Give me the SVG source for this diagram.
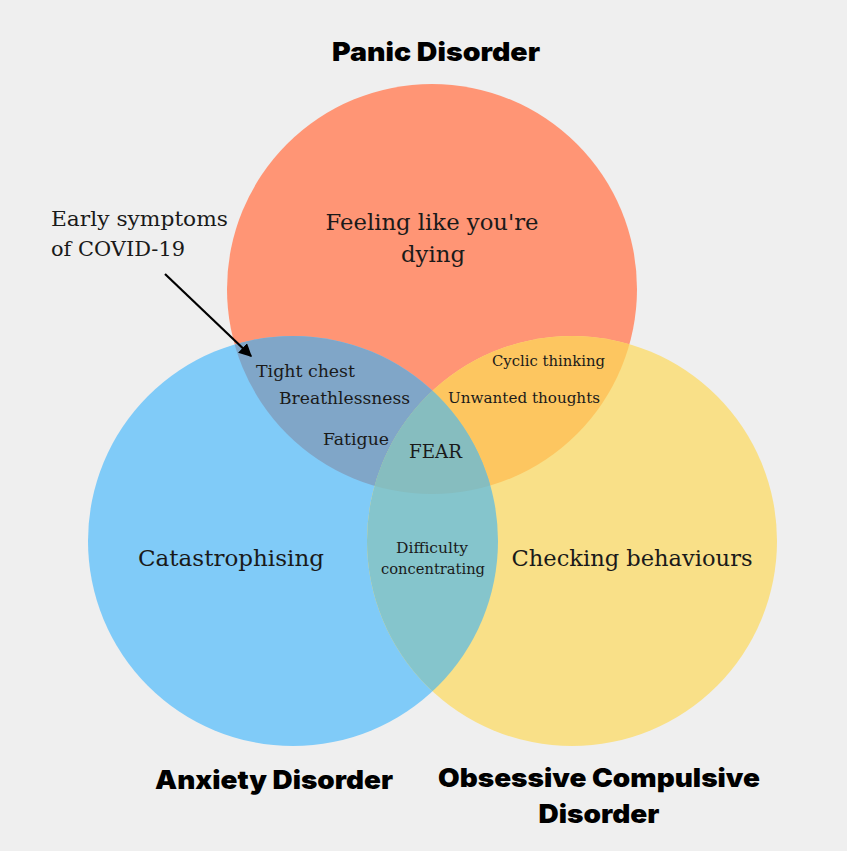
<svg xmlns="http://www.w3.org/2000/svg" width="847" height="851" viewBox="0 0 847 851">
<style>
.title{font-family:Inter,"DejaVu Sans",sans-serif;font-weight:900;font-size:26px;fill:#000;text-anchor:middle}
.lbl{font-family:"DejaVu Serif","Liberation Serif",serif;fill:#1a1a1a}
.c{text-anchor:middle}
</style>
<defs>
<clipPath id="cpRed"><circle cx="432" cy="289" r="205"/></clipPath>
<clipPath id="cpBlue"><circle cx="293" cy="541" r="205"/></clipPath>
<clipPath id="cpYellow"><circle cx="572" cy="541" r="205"/></clipPath>
<marker id="arr" viewBox="0 0 10 10" refX="9" refY="5" markerWidth="13" markerHeight="13" orient="auto" markerUnits="userSpaceOnUse">
<path d="M0,0 L10,5 L0,10 z" fill="#000"/>
</marker>
</defs>
<rect width="847" height="851" fill="#EFEFEF"/>
<g id="panic">
<circle cx="432" cy="289" r="205" fill="#FF9575"/>
<text class="title" x="436" y="61" textLength="208" lengthAdjust="spacingAndGlyphs">Panic Disorder</text>
<text class="lbl c" x="432" y="230" font-size="22" textLength="213" lengthAdjust="spacingAndGlyphs">Feeling like you're</text>
<text class="lbl c" x="433" y="262" font-size="22" textLength="64" lengthAdjust="spacingAndGlyphs">dying</text>
</g>
<g id="anxiety">
<circle cx="293" cy="541" r="205" fill="#80CBF8"/>
<text class="title" x="274" y="789" textLength="238" lengthAdjust="spacingAndGlyphs">Anxiety Disorder</text>
<text class="lbl c" x="231" y="566" font-size="22" textLength="186" lengthAdjust="spacingAndGlyphs">Catastrophising</text>
</g>
<g id="ocd">
<circle cx="572" cy="541" r="205" fill="#F9E088"/>
<text class="title" x="599" y="787" textLength="322" lengthAdjust="spacingAndGlyphs">Obsessive Compulsive</text>
<text class="title" x="599" y="823" textLength="121" lengthAdjust="spacingAndGlyphs">Disorder</text>
<text class="lbl c" x="632" y="566" font-size="22" textLength="241" lengthAdjust="spacingAndGlyphs">Checking behaviours</text>
</g>
<g id="panic-anxiety">
<circle cx="293" cy="541" r="205" fill="#80A6C8" clip-path="url(#cpRed)"/>
<text class="lbl" x="256" y="377" font-size="17" textLength="99" lengthAdjust="spacingAndGlyphs">Tight chest</text>
<text class="lbl" x="279" y="404" font-size="17" textLength="131" lengthAdjust="spacingAndGlyphs">Breathlessness</text>
<text class="lbl" x="323" y="445" font-size="17" textLength="66" lengthAdjust="spacingAndGlyphs">Fatigue</text>
</g>
<g id="panic-ocd">
<circle cx="572" cy="541" r="205" fill="#FDC660" clip-path="url(#cpRed)"/>
<text class="lbl" x="492" y="366" font-size="15" textLength="113" lengthAdjust="spacingAndGlyphs">Cyclic thinking</text>
<text class="lbl" x="448" y="403" font-size="15" textLength="152" lengthAdjust="spacingAndGlyphs">Unwanted thoughts</text>
</g>
<g id="anxiety-ocd">
<circle cx="572" cy="541" r="205" fill="#85C5CC" clip-path="url(#cpBlue)"/>
<text class="lbl c" x="432" y="553" font-size="15" textLength="72" lengthAdjust="spacingAndGlyphs">Difficulty</text>
<text class="lbl c" x="433" y="574" font-size="15" textLength="104" lengthAdjust="spacingAndGlyphs">concentrating</text>
</g>
<g id="fear">
<g clip-path="url(#cpRed)"><circle cx="572" cy="541" r="205" fill="#86BDBF" clip-path="url(#cpBlue)"/></g>
<text class="lbl" x="409" y="458" font-size="19" textLength="53" lengthAdjust="spacingAndGlyphs">FEAR</text>
</g>
<g id="covid-note">
<text class="lbl" x="51" y="226" font-size="20" textLength="177" lengthAdjust="spacingAndGlyphs">Early symptoms</text>
<text class="lbl" x="51" y="256" font-size="20" textLength="134" lengthAdjust="spacingAndGlyphs">of COVID-19</text>
</g>
<g id="connectors">
<line x1="165" y1="274" x2="251" y2="356" stroke="#000" stroke-width="2.2" marker-end="url(#arr)"/>
</g>
</svg>
